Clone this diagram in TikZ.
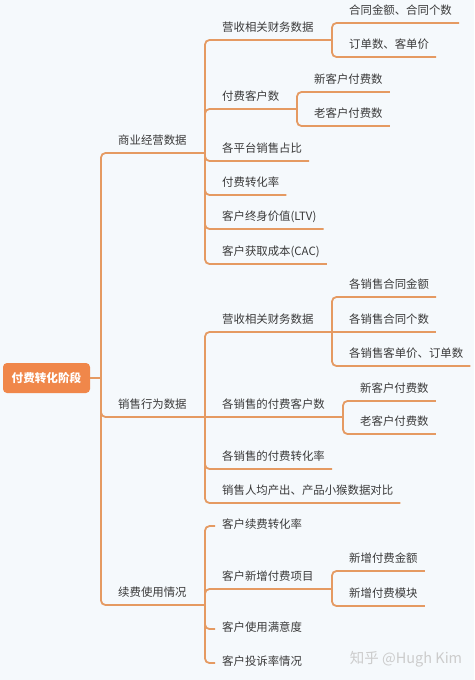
\documentclass[tikz,border=0pt]{standalone}
\usepackage{fontspec}
\setmainfont{Noto Sans CJK SC}
\definecolor{branch}{HTML}{E59A62}
\definecolor{rootfill}{HTML}{F0874A}
\definecolor{paper}{HTML}{F5F9FC}
\definecolor{ink}{HTML}{3A3A3A}
\tikzset{
  topic/.style={anchor=south west, inner xsep=7pt, inner ysep=4pt,
    text height=9pt, text depth=4.5pt, font=\fontsize{11.4}{13}\selectfont, text=ink},
  rootbox/.style={fill=rootfill, rounded corners=4pt, minimum width=87pt,
    minimum height=30pt, inner sep=0pt, text=white, font=\fontsize{11.6}{13}\selectfont\bfseries},
  link/.style={draw=branch, line width=1.8pt, rounded corners=4.5pt},
}
\begin{document}
\begin{tikzpicture}[x=1pt,y=-1pt]
\fill[paper] (0,0) rectangle (474,680);
\useasboundingbox (0,0) rectangle (474,680);
% root
\node[rootbox] (root) at (46.5,378) {付费转化阶段};
\coordinate (rj) at (101,378);
% first level
\node[topic] (g1) at (111,153) {商业经营数据};
\node[topic] (g2) at (111,417) {销售行为数据};
\node[topic] (g3) at (111,605) {续费使用情况};
\coordinate (g1j) at (205,153);
\coordinate (g2j) at (205,417);
\coordinate (g3j) at (205,605);
% 商业经营数据
\node[topic] (a1) at (215,40) {营收相关财务数据};
\node[topic] (a2) at (215,109) {付费客户数};
\node[topic] (a3) at (215,161) {各平台销售占比};
\node[topic] (a4) at (215,195) {付费转化率};
\node[topic] (a5) at (215,229) {客户终身价值(LTV)};
\node[topic] (a6) at (215,264) {客户获取成本(CAC)};
\coordinate (a1j) at (332,40);
\coordinate (a2j) at (297,109);
\node[topic] (a11) at (342,23) {合同金额、合同个数};
\node[topic] (a12) at (342,57) {订单数、客单价};
\node[topic] (a21) at (307,92) {新客户付费数};
\node[topic] (a22) at (307,126) {老客户付费数};
% 销售行为数据
\node[topic] (b1) at (215,332) {营收相关财务数据};
\node[topic] (b2) at (215,417) {各销售的付费客户数};
\node[topic] (b3) at (215,469) {各销售的付费转化率};
\node[topic] (b4) at (215,503) {销售人均产出、产品小猴数据对比};
\coordinate (b1j) at (332,332);
\coordinate (b2j) at (343,417);
\node[topic] (b11) at (342,297) {各销售合同金额};
\node[topic] (b12) at (342,332) {各销售合同个数};
\node[topic] (b13) at (342,366) {各销售客单价、订单数};
\node[topic] (b21) at (353,401) {新客户付费数};
\node[topic] (b22) at (353,434) {老客户付费数};
% 续费使用情况
\node[topic] (c1) at (215,537) {客户续费转化率};
\node[topic] (c2) at (215,589) {客户新增付费项目};
\node[topic] (c3) at (215,640) {客户使用满意度};
\node[topic] (c4) at (215,674) {客户投诉率情况};
\coordinate (c2j) at (332,589);
\node[topic] (c21) at (342,571) {新增付费金额};
\node[topic] (c22) at (342,606) {新增付费模块};
% connectors
\draw[link] (root.east) -- (rj);
\draw[link] (rj) |- (g1j);
\draw[link] (rj) |- (g2j);
\draw[link] (rj) |- (g3j);
\draw[link] (g1j) |- (a1j);
\draw[link] (g1j) |- (a2j);
\foreach \n in {a3,a4,a5,a6}
  \draw[link] (g1j) |- (\n.south east);
\draw[link] (a1j) |- (a11.south east);
\draw[link] (a1j) |- (a12.south east);
\draw[link] (a2j) |- (a21.south east);
\draw[link] (a2j) |- (a22.south east);
\draw[link] (g2j) |- (b1j);
\draw[link] (g2j) -- (b2j);
\foreach \n in {b3,b4}
  \draw[link] (g2j) |- (\n.south east);
\draw[link] (b1j) |- (b11.south east);
\draw[link] (b1j) -- (b12.south east);
\draw[link] (b1j) |- (b13.south east);
\draw[link] (b2j) |- (b21.south east);
\draw[link] (b2j) |- (b22.south east);
\foreach \n in {c1,c2j,c3,c4}
  \draw[link] (g3j) |- (\n);
\draw[link] (c2j) |- (c21.south east);
\draw[link] (c2j) |- (c22.south east);
% watermark
\node[font=\fontsize{14.5}{16}\selectfont, text=black!20] (wm) at (406,659) {知乎 @Hugh Kim};
\end{tikzpicture}
\end{document}
